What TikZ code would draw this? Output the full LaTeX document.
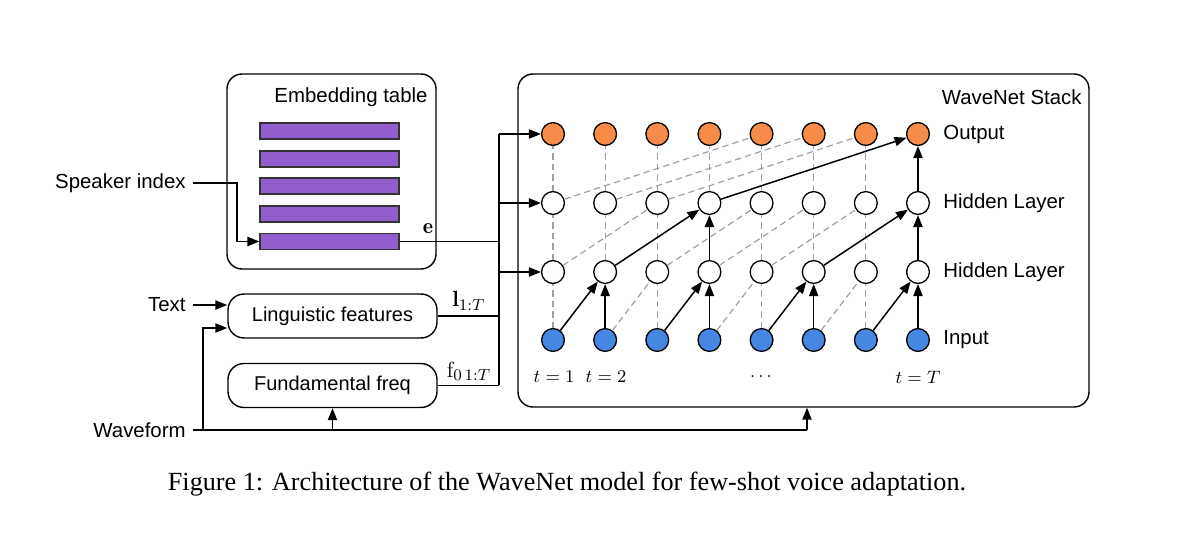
\documentclass[tikz,border=0pt]{standalone}
\usepackage{fontspec}
\newfontfamily\hel{Liberation Sans}
\newfontfamily\capfont{Liberation Serif}
\usetikzlibrary{arrows.meta,calc}
\definecolor{outc}{RGB}{246,140,72}
\definecolor{inc}{RGB}{70,135,228}
\definecolor{barc}{RGB}{146,94,206}
\definecolor{dashc}{RGB}{160,160,160}
\begin{document}
\begin{tikzpicture}[x=0.5pt,y=-0.5pt,
  lab/.style={font=\hel\fontsize{10.2}{12}\selectfont, inner sep=0pt},
  neuron/.style={circle, draw=black, line width=0.65pt, minimum size=11.4pt, inner sep=0pt},
  onode/.style={neuron, fill=outc},
  hnode/.style={neuron, fill=white},
  inode/.style={neuron, fill=inc},
  conn/.style={line width=0.75pt},
  arr/.style={conn, -{Triangle[length=6pt,width=4.6pt]}},
  dsh/.style={draw=dashc, line width=0.6pt, dash pattern=on 3.2pt off 2pt},
  container/.style={draw, rounded corners=7.5pt, line width=0.7pt},
  pill/.style={draw, rounded corners=8pt, line width=0.7pt, font=\hel\fontsize{10}{12}\selectfont, minimum width=104.5pt, minimum height=22pt, inner sep=0pt},
  bar/.style={draw=black!80, fill=barc, line width=0.6pt, minimum width=69.5pt, minimum height=8pt, inner sep=0pt},
  mlab/.style={inner sep=0pt, font=\fontsize{11}{13}\selectfont},
  tlab/.style={inner sep=0pt, font=\fontsize{8.7}{10}\selectfont}
]
\useasboundingbox (0,0) rectangle (1200,534);

% containers
\node[container, minimum width=104.5pt, minimum height=97.5pt] (emb) at (331.5,171.5) {};
\node[lab, anchor=east] (embt) at (428,97) {Embedding table};
\node[container, minimum width=285.5pt, minimum height=166.5pt] (wn) at (803.5,240.5) {};
\node[lab, anchor=east] (wnt) at (1082,97) {WaveNet Stack};

% embedding bars
\foreach \i/\y in {1/131,2/159,3/186,4/214,5/241.5}
  \node[bar] (b\i) at (329.5,\y) {};

% neurons
\foreach \k in {0,...,7}{
  \node[onode] (o\k)  at ({553+52.14*\k},134) {};
  \node[hnode] (hb\k) at ({553+52.14*\k},203) {};
  \node[hnode] (ha\k) at ({553+52.14*\k},272) {};
  \node[inode] (i\k)  at ({553+52.14*\k},340) {};
}

% layer labels
\node[lab, anchor=west] (lo) at (943,134) {Output};
\node[lab, anchor=west] (lh2) at (943,203) {Hidden Layer};
\node[lab, anchor=west] (lh1) at (943,272) {Hidden Layer};
\node[lab, anchor=west] (li) at (943,340) {Input};

% time labels
\node[tlab] (t1) at (554,377) {$t=1$};
\node[tlab] (t2) at (606,377) {$t=2$};
\node[tlab] (tdots) at (761,377) {$\dots$};
\node[tlab] (tT) at (918,377) {$t=T$};

% layer 1: input -> hidden 1
\foreach \k in {0,2,4,6}{ \draw[dsh] (i\k) -- (ha\k); }
\foreach \k in {1,3,5,7}{ \draw[arr] (i\k) -- (ha\k); }
\foreach \k/\n in {1/2,3/4,5/6}{ \draw[dsh] (i\k) -- (ha\n); }
\foreach \k/\n in {0/1,2/3,4/5,6/7}{ \draw[arr] (i\k) -- (ha\n); }

% layer 2: hidden 1 -> hidden 2
\foreach \k in {0,1,2,4,5,6}{ \draw[dsh] (ha\k) -- (hb\k); }
\foreach \k in {3,7}{ \draw[arr] (ha\k) -- (hb\k); }
\foreach \k/\n in {0/2,2/4,3/5,4/6}{ \draw[dsh] (ha\k) -- (hb\n); }
\foreach \k/\n in {1/3,5/7}{ \draw[arr] (ha\k) -- (hb\n); }

% layer 3: hidden 2 -> output
\foreach \k in {0,...,6}{ \draw[dsh] (hb\k) -- (o\k); }
\draw[arr] (hb7) -- (o7);
\foreach \k/\n in {0/4,1/5,2/6}{ \draw[dsh] (hb\k) -- (o\n); }
\draw[arr] (hb3) -- (o7);

% speaker index
\node[lab, anchor=east] (spk) at (186,183) {Speaker index};
\coordinate (spkT) at (237,183);
\draw[arr] ([xshift=3.5pt]spk.east) -- (spkT) |- (b5.west);

% bus
\coordinate (busTop) at (499,134);
\coordinate (busBot) at (499,385.5);
\draw[conn] (busTop) -- (busBot);
\draw[arr] (busTop) -- (o0);
\draw[arr] (busTop |- hb0) -- (hb0);
\draw[arr] (busTop |- ha0) -- (ha0);

% e
\draw[conn] (b5.east) -- (b5.east -| busTop);
\node[mlab] (elab) at (428,229) {$\mathbf{e}$};

% feature boxes
\node[pill] (ling) at (332.5,316) {Linguistic features};
\node[pill] (fund) at (332.5,385.5) {Fundamental freq};
\draw[conn] (ling.east) -- (ling.east -| busTop);
\draw[conn] (fund.east) -- (fund.east -| busTop);
\node[mlab] (llab) at (469,301) {$\mathbf{l}_{1:T}$};
\node[mlab] (flab) at (469,371) {$\mathrm{f}_{0\,1:T}$};

% text input
\node[lab, anchor=east] (txt) at (186,305) {Text};
\draw[arr] ([xshift=3.5pt]txt.east) -- (txt.east -| ling.west);

% waveform
\node[lab, anchor=east] (wf) at (186,430) {Waveform};
\coordinate (wfE) at (807,430);
\coordinate (wfB) at (203,430);
\draw[conn] ([xshift=3.5pt]wf.east) -- (wfE);
\draw[arr] (wfE) -- (wfE |- wn.south);
\draw[arr] (fund.south |- wfE) -- (fund.south);
\draw[arr] (wfB) |- ($(ling.west)+(0,12)$);

% caption
\node[font=\capfont\fontsize{13.1}{15}\selectfont, inner sep=0pt] (cap) at (567,484) {Figure 1: Architecture of the WaveNet model for few-shot voice adaptation.};
\end{tikzpicture}
\end{document}
